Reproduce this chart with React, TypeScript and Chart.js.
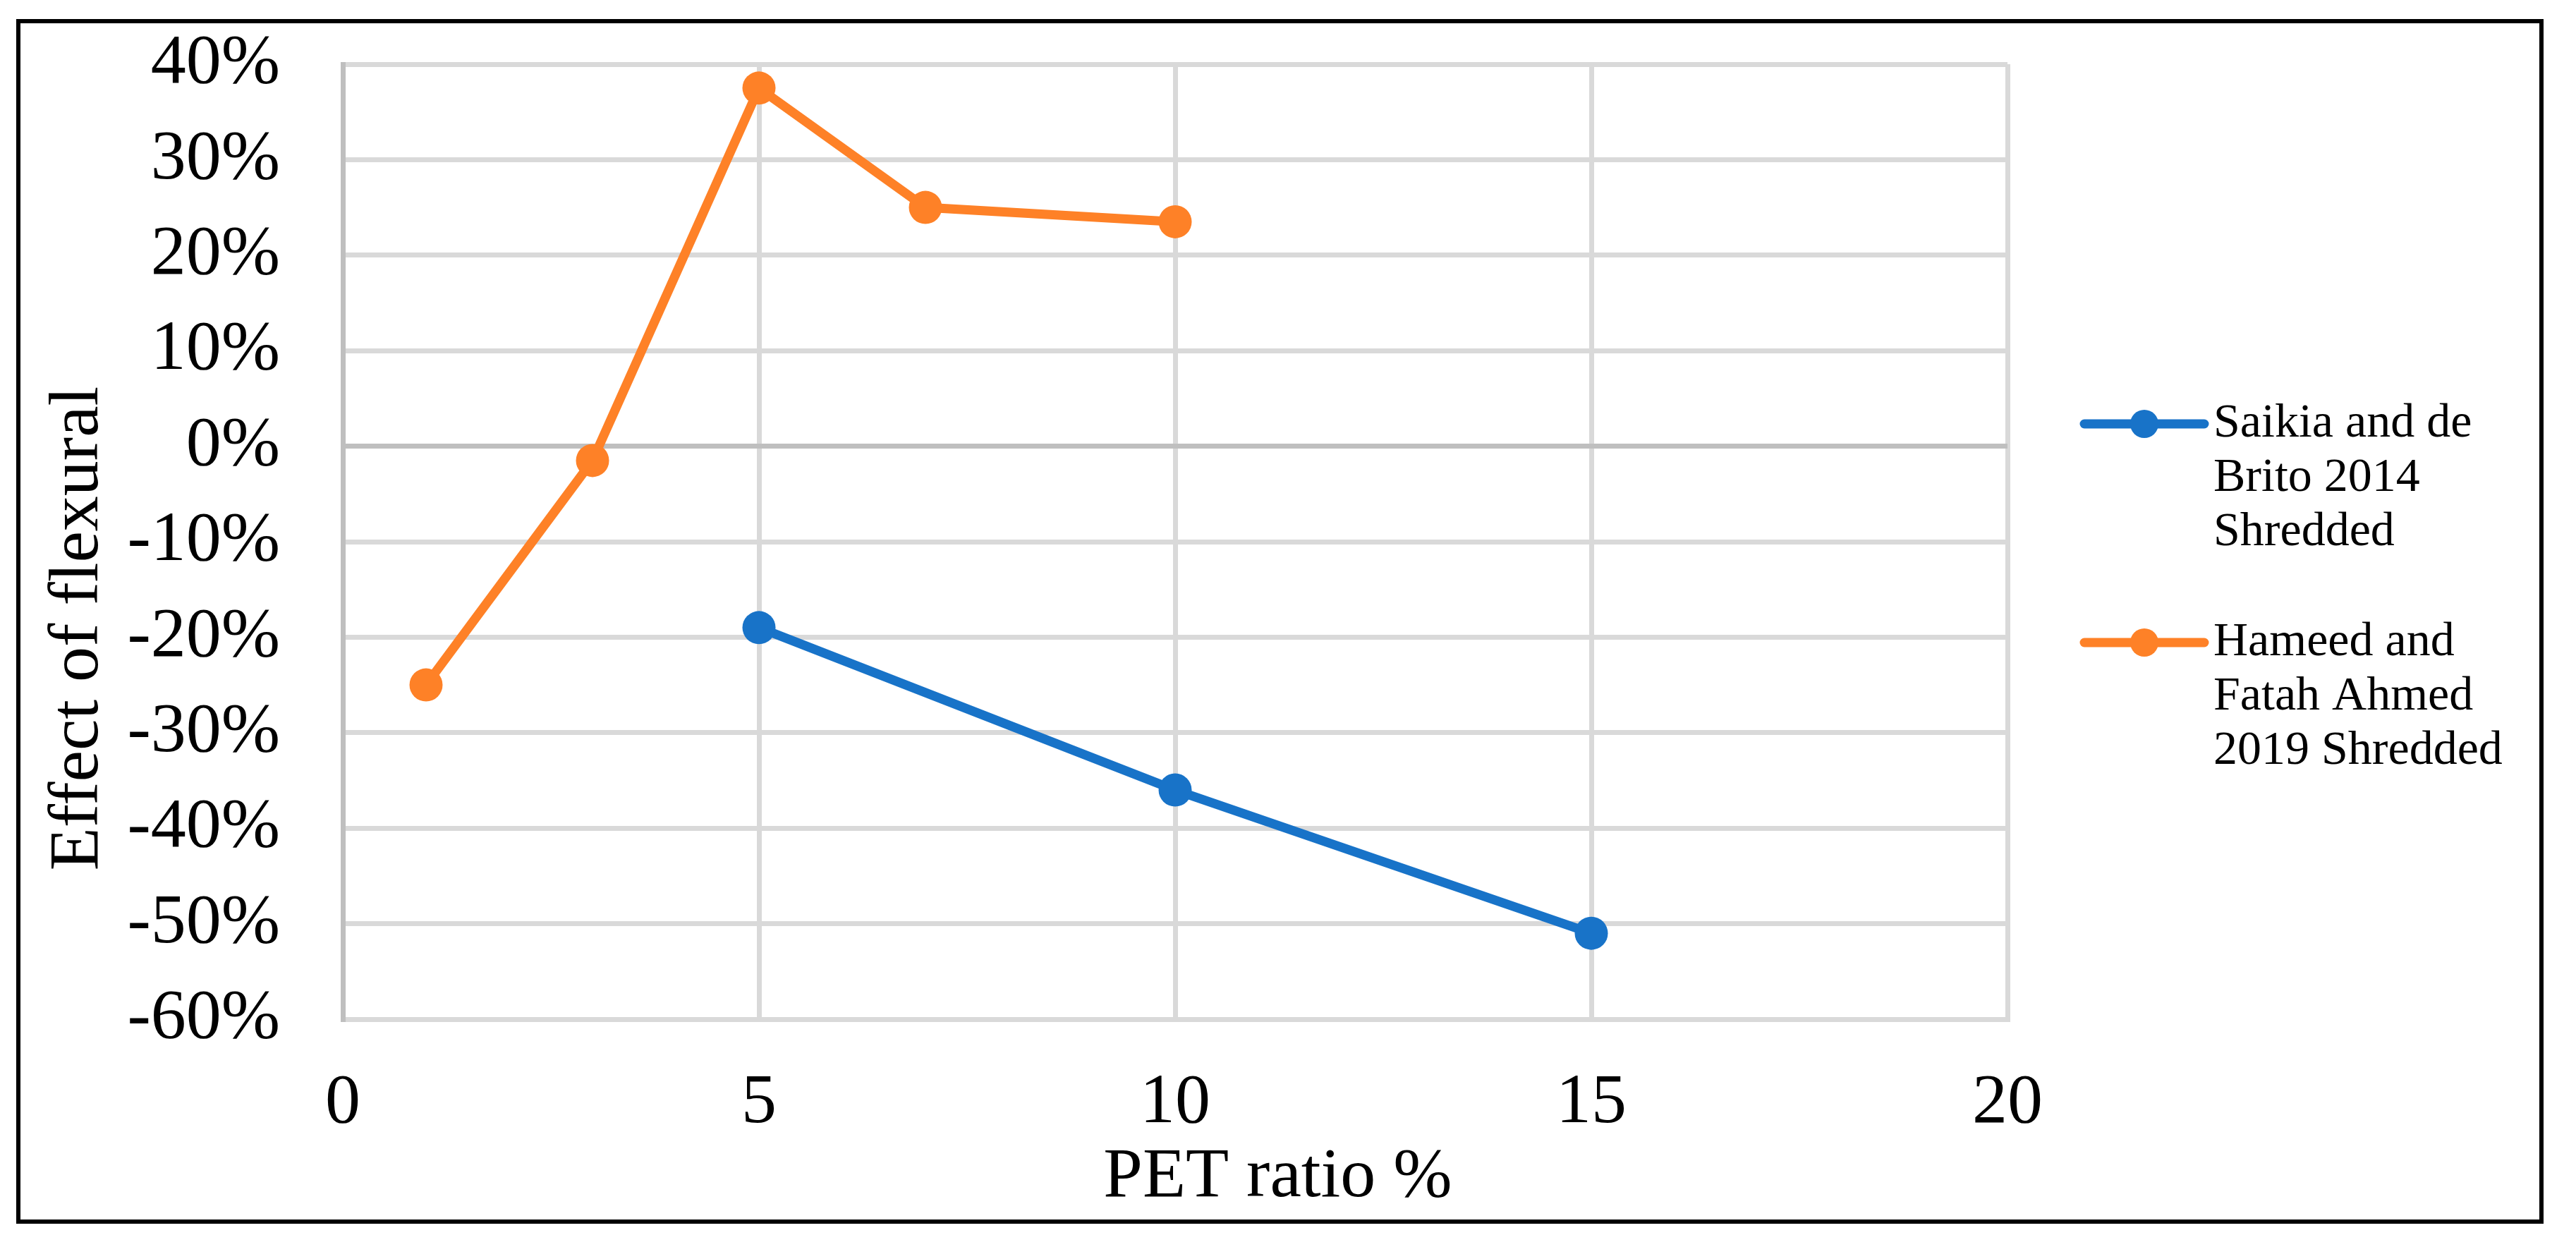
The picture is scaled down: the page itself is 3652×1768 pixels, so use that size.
import React, { useEffect, useRef } from "react";
import { Chart, registerables } from "chart.js";

Chart.register(...registerables);

// ---- data ----
const saikiaRatios = [5, 10, 15];
const saikiaValues = [-19, -36, -51];
const hameedRatios = [1, 3, 5, 7, 10];
const hameedValues = [-25, -1.5, 37.5, 25, 23.5];
const seriesLabels = [
  "Saikia and de Brito 2014 Shredded",
  "Hameed and Fatah Ahmed 2019 Shredded",
];
const legendLines = [
  ["Saikia and de", "Brito 2014", "Shredded"],
  ["Hameed and", "Fatah Ahmed", "2019 Shredded"],
];
const seriesColors = ["#1873c8", "#fe8127"];
const xAxisTitle = "PET ratio %";
const yAxisTitle = "Effect of flexural";
const xMin = 0;
const xMax = 20;
const xStep = 5;
const yMin = -60;
const yMax = 40;
const yStep = 10;

const FONT = "'Liberation Serif', 'Times New Roman', serif";

const sideLegend = {
  id: "sideLegend",
  afterDraw(chart: any) {
    const { ctx, chartArea } = chart;
    ctx.save();
    chart.data.datasets.forEach((ds: any, i: number) => {
      const cy = chartArea.top + 510 + i * 310;
      const x0 = chartArea.right + 109;
      const x1 = chartArea.right + 279;
      ctx.strokeStyle = ds.borderColor;
      ctx.lineWidth = 13;
      ctx.lineCap = "round";
      ctx.beginPath();
      ctx.moveTo(x0, cy);
      ctx.lineTo(x1, cy);
      ctx.stroke();
      ctx.fillStyle = ds.borderColor;
      ctx.beginPath();
      ctx.arc((x0 + x1) / 2, cy, 20, 0, Math.PI * 2);
      ctx.fill();
      ctx.fillStyle = "#000";
      ctx.font = `68px ${FONT}`;
      ctx.textAlign = "left";
      ctx.textBaseline = "middle";
      legendLines[i].forEach((line, k) => {
        ctx.fillText(line, chartArea.right + 292, cy + k * 77);
      });
    });
    ctx.restore();
  },
};

const axisTitles = {
  id: "axisTitles",
  afterDraw(chart: any) {
    const { ctx, chartArea } = chart;
    ctx.save();
    ctx.fillStyle = "#000";
    ctx.font = `100px ${FONT}`;
    ctx.textAlign = "center";
    ctx.textBaseline = "middle";
    ctx.fillText(xAxisTitle, chart.width / 2 - 3, chartArea.bottom + 225);
    ctx.translate(chart.scales.y.left + 83, chartArea.top + 800);
    ctx.rotate(-Math.PI / 2);
    ctx.fillText(yAxisTitle, 0, 0);
    ctx.restore();
  },
};

export default function App() {
  const ref = useRef<HTMLCanvasElement | null>(null);

  useEffect(() => {
    if (!ref.current) return;
    const chart = new Chart(ref.current, {
      type: "scatter",
      data: {
        datasets: [
          {
            label: seriesLabels[0],
            data: saikiaRatios.map((x, i) => ({ x, y: saikiaValues[i] })),
            borderColor: seriesColors[0],
            backgroundColor: seriesColors[0],
            showLine: true,
            borderWidth: 13,
            pointRadius: 23.5,
            pointBorderWidth: 0,
            pointBackgroundColor: seriesColors[0],
          },
          {
            label: seriesLabels[1],
            data: hameedRatios.map((x, i) => ({ x, y: hameedValues[i] })),
            borderColor: seriesColors[1],
            backgroundColor: seriesColors[1],
            showLine: true,
            borderWidth: 13,
            pointRadius: 23.5,
            pointBorderWidth: 0,
            pointBackgroundColor: seriesColors[1],
          },
        ],
      },
      options: {
        animation: false,
        responsive: false,
        devicePixelRatio: 1,
        layout: { padding: { top: 58, right: 754, left: 0, bottom: 0 } },
        plugins: {
          legend: { display: false },
          tooltip: { enabled: false },
        },
        scales: {
          x: {
            type: "linear",
            min: xMin,
            max: xMax,
            ticks: {
              stepSize: xStep,
              color: "#000",
              padding: 0,
              font: { family: FONT, size: 100, lineHeight: 1.2 },
            },
            grid: {
              color: "#d9d9d9",
              lineWidth: 7,
              drawTicks: true,
              tickLength: 60,
              tickColor: "rgba(0,0,0,0)",
            },
            border: { color: "#d9d9d9", width: 7 },
            afterFit: (s: any) => {
              s.height = 284;
            },
          },
          y: {
            type: "linear",
            min: yMin,
            max: yMax,
            ticks: {
              stepSize: yStep,
              color: "#000",
              padding: 0,
              font: { family: FONT, size: 100, lineHeight: 1 },
              callback: (v: any) => `${v}%`,
            },
            grid: {
              color: (c: any) => (c.tick && c.tick.value === 0 ? "#bfbfbf" : "#d9d9d9"),
              lineWidth: 7,
              drawTicks: true,
              tickLength: 89,
              tickColor: "rgba(0,0,0,0)",
            },
            border: { color: "#bfbfbf", width: 7 },
            afterFit: (s: any) => {
              s.width = 457;
            },
          },
        },
      },
      plugins: [sideLegend, axisTitles],
    });
    return () => chart.destroy();
  }, []);

  return (
    <div
      style={{
        position: "absolute",
        left: 0,
        top: 0,
        width: 3652,
        height: 1768,
        background: "#fff",
      }}
    >
      <div
        style={{
          position: "absolute",
          left: 23,
          top: 27,
          width: 3571,
          height: 1696,
          border: "6px solid #000",
        }}
      >
        <canvas
          ref={ref}
          width={3571}
          height={1696}
          style={{ display: "block", width: 3571, height: 1696 }}
        />
      </div>
    </div>
  );
}
